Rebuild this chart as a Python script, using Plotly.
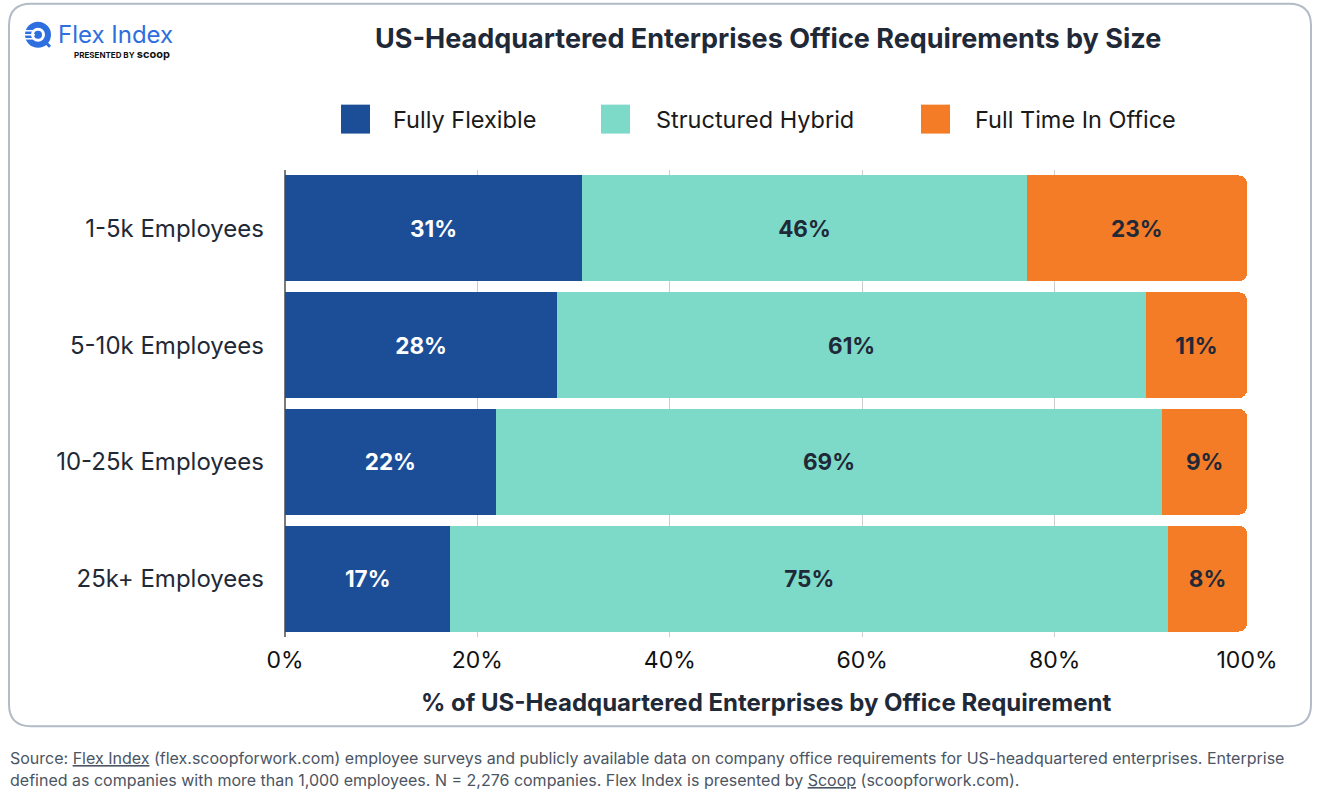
import plotly.graph_objects as go

categories = ["1-5k Employees", "5-10k Employees", "10-25k Employees", "25k+ Employees"]
fully_flexible = [30.9, 28.3, 21.9, 17.2]
structured_hybrid = [46.2, 61.2, 69.3, 74.6]
full_time_office = [22.9, 10.5, 8.8, 8.2]
fully_flexible_labels = ["31%", "28%", "22%", "17%"]
structured_hybrid_labels = ["46%", "61%", "69%", "75%"]
full_time_office_labels = ["23%", "11%", "9%", "8%"]
series_names = ["Fully Flexible", "Structured Hybrid", "Full Time In Office"]
x_ticks = [0, 20, 40, 60, 80, 100]
x_tick_labels = ["0%", "20%", "40%", "60%", "80%", "100%"]

COLORS = ["#1c4e98", "#7dd9c8", "#f47c27"]
TEXT_COLORS = ["#ffffff", "#1f2937", "#1f2937"]
FONT = "Inter"
W, H = 1322, 798
L, R, T, B = 285, 1247, 169.5, 637.5


def px(x):
    return (x - L) / (R - L)


def py(y):
    return (B - y) / (B - T)


fig = go.Figure()
for name, vals, labels, col, tcol in zip(
        series_names,
        [fully_flexible, structured_hybrid, full_time_office],
        [fully_flexible_labels, structured_hybrid_labels, full_time_office_labels],
        COLORS, TEXT_COLORS):
    fig.add_trace(go.Bar(
        y=categories, x=vals, name=name, orientation="h",
        marker=dict(color=col, line=dict(width=0)),
        text=labels, textposition="inside",
        insidetextanchor="middle", textangle=0, constraintext="none",
        textfont=dict(family=FONT, size=22.5, color=tcol, weight="bold"),
        hoverinfo="skip", showlegend=False,
    ))

shapes = []
# outer rounded frame
x0, y0, x1, y1, r = 9, 3, 1311, 727, 22


def P(x, y):
    return f"{px(x)},{py(y)}"


path = (f"M {P(x0 + r, y0)} L {P(x1 - r, y0)} Q {P(x1, y0)} {P(x1, y0 + r)} "
        f"L {P(x1, y1 - r)} Q {P(x1, y1)} {P(x1 - r, y1)} L {P(x0 + r, y1)} "
        f"Q {P(x0, y1)} {P(x0, y1 - r)} L {P(x0, y0 + r)} Q {P(x0, y0)} {P(x0 + r, y0)} Z")
shapes.append(dict(type="path", xref="paper", yref="paper", path=path,
                   line=dict(color="#b3bbc7", width=2), fillcolor="rgba(0,0,0,0)", layer="below"))

annotations = []
# legend (manual, large squares)
leg = [(341, 391), (601, 654), (921, 973)]
for (sx, tx), name, col in zip(leg, series_names, COLORS):
    shapes.append(dict(type="rect", xref="paper", yref="paper",
                       x0=px(sx), x1=px(sx + 29), y0=py(104), y1=py(133),
                       fillcolor=col, line=dict(width=0)))
    annotations.append(dict(text=name, xref="paper", yref="paper", x=px(tx), y=py(119),
                            xanchor="left", yanchor="middle", showarrow=False,
                            font=dict(family=FONT, size=23.5, color="#1a1a1a")))

# logo icon
cx, cy = 38, 34
shapes.append(dict(type="circle", xref="paper", yref="paper",
                   x0=px(cx - 13), x1=px(cx + 13), y0=py(cy - 13), y1=py(cy + 13),
                   fillcolor="#2e6fe0", line=dict(width=0)))
shapes.append(dict(type="circle", xref="paper", yref="paper",
                   x0=px(cx - 7), x1=px(cx + 7), y0=py(cy - 7), y1=py(cy + 7),
                   fillcolor="#ffffff", line=dict(width=0)))
shapes.append(dict(type="circle", xref="paper", yref="paper",
                   x0=px(cx - 4), x1=px(cx + 4), y0=py(cy - 4), y1=py(cy + 4),
                   fillcolor="#2e6fe0", line=dict(width=0)))
for dy in (-4, 0, 4):
    shapes.append(dict(type="line", xref="paper", yref="paper",
                       x0=px(cx - 14), x1=px(cx - 3), y0=py(cy + dy), y1=py(cy + dy),
                       line=dict(color="#ffffff", width=1.5)))
shapes.append(dict(type="line", xref="paper", yref="paper",
                   x0=px(cx + 6), x1=px(cx + 12), y0=py(cy + 6), y1=py(cy + 12),
                   line=dict(color="#2e6fe0", width=3)))
annotations.append(dict(text="Flex Index", xref="paper", yref="paper", x=px(56), y=py(34),
                        xanchor="left", yanchor="middle", showarrow=False,
                        font=dict(family=FONT, size=24, color="#2e6fe0")))
annotations.append(dict(text="<b>PRESENTED BY</b> <b><span style='font-size:11px'>scoop</span></b>",
                        xref="paper", yref="paper", x=px(72), y=py(53),
                        xanchor="left", yanchor="middle", showarrow=False,
                        font=dict(family=FONT, size=8, color="#111111")))

# title
annotations.append(dict(text="<b>US-Headquartered Enterprises Office Requirements by Size</b>",
                        xref="paper", yref="paper", x=px(768), y=py(38),
                        xanchor="center", yanchor="middle", showarrow=False,
                        font=dict(family=FONT, size=27, color="#1f2937")))
# x axis title
annotations.append(dict(text="<b>% of US-Headquartered Enterprises by Office Requirement</b>",
                        xref="paper", yref="paper", x=px(766), y=py(703),
                        xanchor="center", yanchor="middle", showarrow=False,
                        font=dict(family=FONT, size=24, color="#1f2937")))
# footer
annotations.append(dict(text="Source: <u>Flex Index</u> (flex.scoopforwork.com) employee surveys and publicly available data on company office requirements for US-headquartered enterprises. Enterprise",
                        xref="paper", yref="paper", x=px(8), y=py(759),
                        xanchor="left", yanchor="middle", showarrow=False,
                        font=dict(family=FONT, size=16, color="#4b5563")))
annotations.append(dict(text="defined as companies with more than 1,000 employees. N = 2,276 companies. Flex Index is presented by <u>Scoop</u> (scoopforwork.com).",
                        xref="paper", yref="paper", x=px(8), y=py(781),
                        xanchor="left", yanchor="middle", showarrow=False,
                        font=dict(family=FONT, size=16, color="#4b5563")))

fig.update_layout(
    width=W, height=H, barmode="stack", bargap=0.094, barcornerradius=8,
    margin=dict(l=L, r=W - R, t=T, b=H - B, pad=0),
    paper_bgcolor="#ffffff", plot_bgcolor="#ffffff",
    font=dict(family=FONT),
    shapes=shapes, annotations=annotations, showlegend=False,
    xaxis=dict(range=[0, 100], tickvals=x_ticks, ticktext=x_tick_labels,
               showgrid=True, gridcolor="#cccccc", gridwidth=1,
               zeroline=True, zerolinecolor="#7a7a7a", zerolinewidth=2,
               showline=False, ticks="", ticklabelstandoff=7,
               tickfont=dict(family=FONT, size=23, color="#111111"), fixedrange=True),
    yaxis=dict(autorange="reversed", showgrid=False, zeroline=False, ticks="",
               ticklabelstandoff=20,
               tickfont=dict(family=FONT, size=24, color="#1f2937"), fixedrange=True),
)

fig.write_html("out.html", config={"displayModeBar": False},
               post_script="document.body.style.margin='0';document.body.style.overflow='hidden';")
